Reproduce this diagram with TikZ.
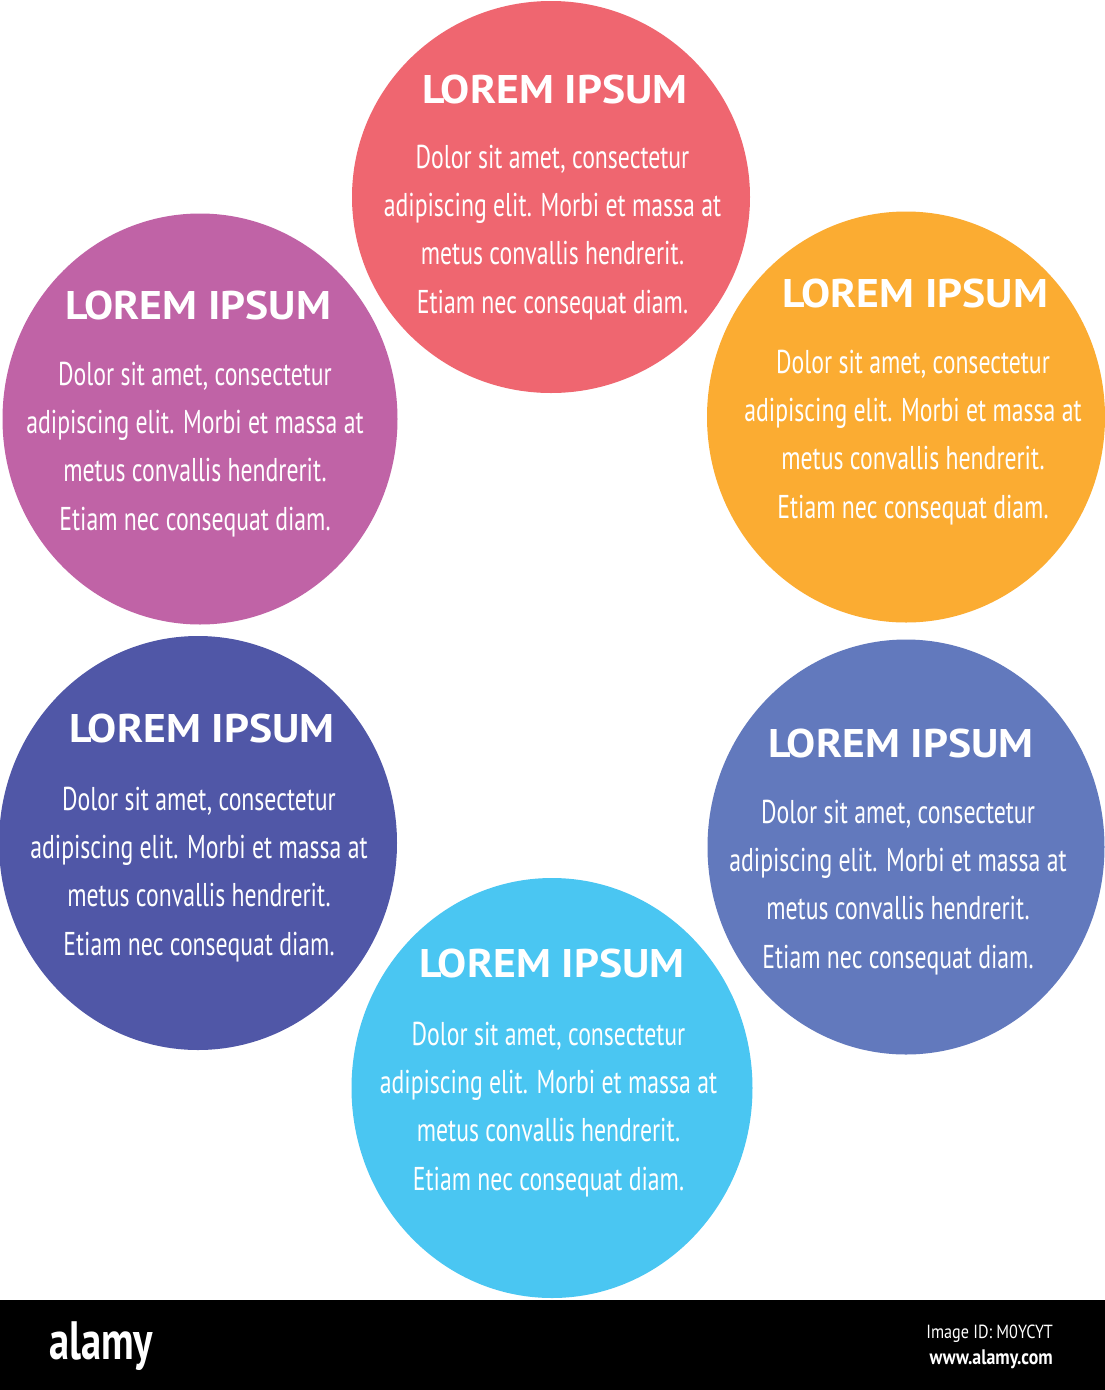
\documentclass[tikz,border=0pt]{standalone}
\usepackage{fontspec}
\usetikzlibrary{shapes.geometric}
\newfontfamily\headfont[FakeStretch=1.09]{PT Sans}
\newfontfamily\bodyfont[FakeStretch=0.72]{PT Sans}
\newfontfamily\markfont[FakeStretch=0.75]{PT Sans}
\newfontfamily\smallfont[FakeStretch=0.85]{PT Sans}
\definecolor{cred}{HTML}{EF6670}
\definecolor{corange}{HTML}{FBAC32}
\definecolor{cmagenta}{HTML}{C063A6}
\definecolor{cdark}{HTML}{5057A7}
\definecolor{cblue}{HTML}{6279BD}
\definecolor{ccyan}{HTML}{4AC6F2}
\newcommand\loremblock{\vtop{\halign{\hfil##\hfil\cr Dolor sit amet, consectetur\cr adipiscing elit. Morbi et massa at\cr metus convallis hendrerit.\cr Etiam nec consequat diam.\cr}}}
\tikzset{
  blob/.style={ellipse, inner sep=0pt, draw=none, fill=#1},
  head/.style={anchor=base, inner sep=0pt, text=white, font=\headfont\bfseries\fontsize{40}{48}\selectfont},
  body/.style={anchor=base, inner sep=0pt, text=white, font=\bodyfont\fontsize{33}{48.4}\selectfont},
}
\begin{document}
\begin{tikzpicture}[x=1pt,y=-1pt]
\useasboundingbox (0,0) rectangle (1105,1390);
\fill[white] (0,0) rectangle (1105,1390);
% blobs
\node[blob=cred, minimum width=398pt, minimum height=392pt] (red) at (551,197) {};
\node[blob=corange, minimum width=398pt, minimum height=411pt] (orange) at (906,417) {};
\node[blob=cmagenta, minimum width=395pt, minimum height=411pt] (magenta) at (200,419) {};
\node[blob=cdark, minimum width=398pt, minimum height=414pt] (dark) at (198,843) {};
\node[blob=cblue, minimum width=397pt, minimum height=415pt] (blue) at (906,847) {};
\node[blob=ccyan, minimum width=401pt, minimum height=420pt] (cyan) at (552,1088) {};
% texts
\node[head] (redh) at (555,103) {LOREM IPSUM};
\node[body] (redb) at (552.5,168) {\loremblock};
\node[head] (magh) at (198.5,319) {LOREM IPSUM};
\node[body] (magb) at (195,385) {\loremblock};
\node[head] (orah) at (915.5,307) {LOREM IPSUM};
\node[body] (orab) at (913,373) {\loremblock};
\node[head] (darh) at (202,742) {LOREM IPSUM};
\node[body] (darb) at (199,810) {\loremblock};
\node[head] (bluh) at (901,757) {LOREM IPSUM};
\node[body] (blub) at (898,823) {\loremblock};
\node[head] (cyah) at (552,977) {LOREM IPSUM};
\node[body] (cyab) at (548.5,1045) {\loremblock};
% bottom band
\fill[black] (0,1300) rectangle (1105,1390);
\node[anchor=base west, inner sep=0pt, text=white, font=\markfont\bfseries\fontsize{54}{54}\selectfont] (alamy) at (49,1359) {alamy};
\node[anchor=base east, inner sep=0pt, text=white, font=\smallfont\fontsize{19}{19}\selectfont] (imgid) at (1053,1338) {Image ID: M0YCYT};
\node[anchor=base east, inner sep=0pt, text=white, font=\smallfont\bfseries\fontsize{21}{21}\selectfont] (www) at (1053,1364) {www.alamy.com};
\end{tikzpicture}
\end{document}
